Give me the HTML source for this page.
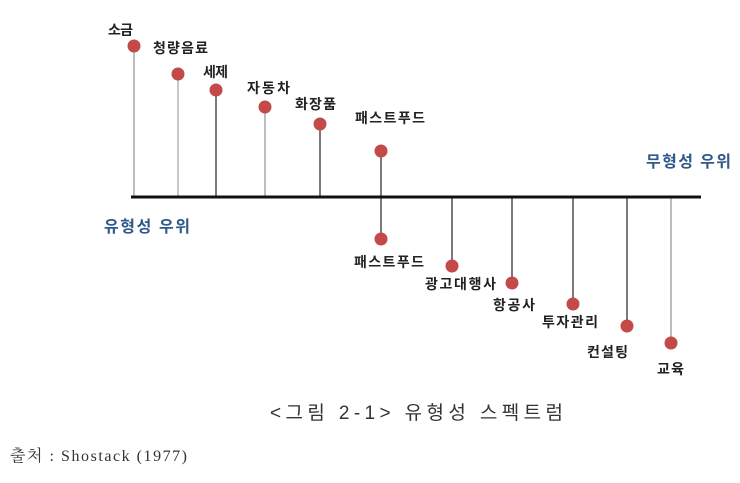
<!DOCTYPE html>
<html><head><meta charset="utf-8"><style>
html,body{margin:0;padding:0;background:#fff;width:740px;height:483px;overflow:hidden}
</style></head><body>
<svg width="740" height="483" xmlns="http://www.w3.org/2000/svg" font-family="'Liberation Sans','Noto Sans CJK KR',sans-serif">
<g stroke="#333" stroke-width="1.3">
<line x1="134" y1="46" x2="134" y2="197" stroke="#999"/>
<line x1="178" y1="74" x2="178" y2="197" stroke="#aaa"/>
<line x1="216" y1="90" x2="216" y2="197"/>
<line x1="265" y1="107" x2="265" y2="197" stroke="#999"/>
<line x1="320" y1="124" x2="320" y2="197"/>
<line x1="381" y1="151" x2="381" y2="239"/>
<line x1="452" y1="197" x2="452" y2="266"/>
<line x1="512" y1="197" x2="512" y2="283"/>
<line x1="573" y1="197" x2="573" y2="304"/>
<line x1="627" y1="197" x2="627" y2="326"/>
<line x1="671" y1="197" x2="671" y2="343" stroke="#999"/>
</g>
<line x1="131" y1="197" x2="701" y2="197" stroke="#111" stroke-width="3"/>
<g fill="#c44a4a">
<circle cx="134" cy="46" r="6.5"/><circle cx="178" cy="74" r="6.5"/><circle cx="216" cy="90" r="6.5"/>
<circle cx="265" cy="107" r="6.5"/><circle cx="320" cy="124" r="6.5"/><circle cx="381" cy="151" r="6.5"/>
<circle cx="381" cy="239" r="6.5"/><circle cx="452" cy="266" r="6.5"/><circle cx="512" cy="283" r="6.5"/>
<circle cx="573" cy="304" r="6.5"/><circle cx="627" cy="326" r="6.5"/><circle cx="671" cy="343" r="6.5"/>
</g>
<g font-size="14" font-weight="bold" fill="#222">
<text x="108" y="35" textLength="25">소금</text>
<text x="153" y="53" textLength="55">청량음료</text>
<text x="203" y="77" textLength="25">세제</text>
<text x="247" y="93" textLength="43">자동차</text>
<text x="295" y="109" textLength="41">화장품</text>
<text x="355" y="123" textLength="70">패스트푸드</text>
<text x="354" y="267" textLength="70">패스트푸드</text>
<text x="425" y="289" textLength="71">광고대행사</text>
<text x="493" y="310" textLength="42">항공사</text>
<text x="542" y="327" textLength="56">투자관리</text>
<text x="587" y="357" textLength="41">컨설팅</text>
<text x="657" y="374" textLength="27">교육</text>
</g>
<g font-size="16" font-weight="bold" fill="#2f5a8a">
<text x="104" y="232" textLength="86">유형성 우위</text>
<text x="646" y="167" textLength="85">무형성 우위</text>
</g>
<text x="270" y="419" font-size="19" fill="#333" textLength="293">&lt;그림 2-1&gt; 유형성 스펙트럼</text>
<text x="10" y="461" font-size="16" fill="#333" font-family="'Liberation Serif','Noto Serif CJK SC',serif" textLength="177">출처 : Shostack (1977)</text>
</svg>
</body></html>
